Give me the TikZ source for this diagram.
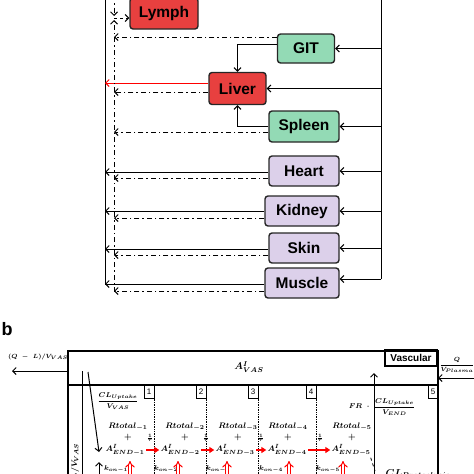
\documentclass[tikz,border=0pt]{standalone}
\usepackage{fontspec}
\setsansfont{Liberation Sans}
\usetikzlibrary{arrows.meta}
\definecolor{organred}{HTML}{E8403F}
\definecolor{organgreen}{HTML}{93DAB5}
\definecolor{organlilac}{HTML}{DCD0EA}

\begin{document}
\begin{tikzpicture}[x=1pt,y=-1pt,
	organ/.style={draw=black!85,line width=1.4pt,rounded corners=3pt,inner sep=0pt,
		font=\sffamily\bfseries\fontsize{15.5}{16}\selectfont},
	redorgan/.style={organ,fill=organred},
	greenorgan/.style={organ,fill=organgreen},
	lilacorgan/.style={organ,fill=organlilac},
	flow/.style={line width=1pt,-{Straight Barb[length=3.5pt,width=7pt]}},
	ret/.style={flow,dash pattern=on 5pt off 3pt on 1.5pt off 3pt},
	mtxt/.style={inner sep=0pt,font=\fontsize{8.5}{9}\selectfont\boldmath},
	ftxt/.style={inner sep=0pt,font=\fontsize{7.5}{8}\selectfont\boldmath},
	numbox/.style={draw,line width=1pt,inner sep=0pt,minimum width=10pt,minimum height=13pt,
		font=\sffamily\fontsize{8}{9}\selectfont},
	redflow/.style={red,line width=1.3pt,-{Triangle[length=5pt,width=6pt]}},
	dblred/.style={red,double,double distance=2.2pt,line width=1pt,-{Implies}}]
	\useasboundingbox (0,0) rectangle (474,474);
	\clip (0,0) rectangle (474,474);

	% panel a : organs
	\node[redorgan,minimum width=68pt,minimum height=31pt] (lymph) at (164,13.5) {Lymph};
	\node[greenorgan,minimum width=57pt,minimum height=29pt] (git) at (306,48.5) {GIT};
	\node[redorgan,minimum width=57pt,minimum height=32pt] (liver) at (237.5,88.5) {Liver};
	\node[greenorgan,minimum width=70pt,minimum height=31pt] (spleen) at (304,126.5) {Spleen};
	\node[lilacorgan,minimum width=70pt,minimum height=30pt] (heart) at (304,171) {Heart};
	\node[lilacorgan,minimum width=74pt,minimum height=30pt] (kidney) at (302,211) {Kidney};
	\node[lilacorgan,minimum width=70pt,minimum height=30pt] (skin) at (304,248) {Skin};
	\node[lilacorgan,minimum width=74pt,minimum height=30pt] (muscle) at (302,283) {Muscle};

	\coordinate (art) at (381,-5);
	\coordinate (ven) at (105,-5);
	\coordinate (lym) at (114,-5);
	\coordinate (artend) at (381,279);
	\coordinate (venend) at (105,285);
	\coordinate (lymend) at (114,292);

	% arterial side
	\draw[line width=1pt] (art) -- (artend);
	\foreach \o in {git,liver,spleen,heart,kidney,skin}
		\draw[flow] (\o -| art) -- (\o);
	\draw[flow] (artend) -- (artend -| muscle.east);

	% venous side
	\draw[line width=1pt] (ven) -- (venend);
	\draw[flow] ([yshift=4.5pt]git.west) -| (liver.north);
	\draw[flow] (spleen.west) -| (liver.south);
	\draw[flow,red] ([yshift=5.5pt]liver.west) -- ([yshift=5.5pt]liver.west -| ven);
	\foreach \o in {heart,skin,muscle}
		\draw[flow] ([yshift=-1pt]\o.west) -- ([yshift=-1pt]\o.west -| ven);
	\draw[flow] (kidney.west) -- (kidney.west -| ven);

	% lymph side
	\draw[ret] (lymend) -- (114,20);
	\draw[ret] (lym) -- (114,16);
	\draw[flow,dashed] (114,18) -- (lymph.west |- 114,18);
	\draw[ret] ([yshift=11.5pt]git.west) -- ([yshift=11.5pt]git.west -| lym);
	\draw[ret] ([yshift=-3.5pt]liver.west) -- ([yshift=-3.5pt]liver.west -| lym);
	\draw[ret] ([yshift=-5.5pt]spleen.west) -- ([yshift=-5.5pt]spleen.west -| lym);
	\foreach \o in {heart,kidney,skin}
		\draw[ret] ([yshift=-7pt]\o.west) -- ([yshift=-7pt]\o.west -| lym);
	\draw[ret] ([yshift=-8pt]muscle.west) -- ([yshift=-8pt]muscle.west -| lym);

	% panel b
	\node[font=\sffamily\bfseries\fontsize{18}{18}\selectfont,inner sep=0pt] (lbl) at (7,329) {b};
	\draw[line width=1.1pt] (68,490) -- (68,351) -- (438,351) -- (438,490);
	\draw[line width=1.1pt] (68,385) -- (438,385);
	\node[draw,line width=1.3pt,inner sep=0pt,minimum width=52pt,minimum height=16pt,
		font=\sffamily\bfseries\fontsize{10}{12}\selectfont] (vasc) at (411,358) {Vascular};
	\node[font=\fontsize{10}{10}\selectfont\boldmath,inner sep=0pt] (avas) at (249,367) {$A^{I}_{VAS}$};

	\node[ftxt,font=\fontsize{6.5}{8}\selectfont\boldmath] (qout) at (38,357) {$(Q\;-\;L)/V_{VAS}$};
	\coordinate (vasl) at (68,371);
	\coordinate (qleft) at (12,371);
	\draw[flow] (vasl) -- (qleft);
	\node[ftxt,font=\fontsize{6.5}{8}\selectfont\boldmath] (qin) at (457,365) {$\displaystyle\frac{Q}{V_{Plasma}}$};
	\coordinate (qright) at (480,378);
	\coordinate (vasr) at (438,378);
	\draw[flow] (qright) -- (vasr);

	\coordinate (endo) at (82,371);
	\coordinate (endob) at (82,490);
	\draw[line width=1pt] (endo) -- (endob);
	\node[mtxt,rotate=90,anchor=east] (lvas) at (75,443) {$(1-\sigma)\cdot L/V_{VAS}$};
	\coordinate (upt) at (88,372);
	\coordinate (uptend) at (99,452);
	\draw[flow] (upt) -- (uptend);
	\node[ftxt] (cluv) at (118,401) {$\displaystyle\frac{CL_{Uptake}}{V_{VAS}}$};

	\coordinate (bot) at (0,490);
	\foreach \i/\x in {1/149,2/201,3/253,4/311,5/433}
		\node[numbox] (c\i) at (\x,391.5) {\i};
	\foreach \i in {1,...,4}
		\draw[densely dotted,line width=0.7pt] (c\i.south east) -- (c\i.south east |- bot);

	\foreach \i/\x/\a in {1/128/125,2/185/180,3/238/235,4/288/287,5/352/351} {
		\node[mtxt] (rt\i) at (\x,427) {$Rtotal_{-\i}$};
		\node[mtxt] (pl\i) at (\x,437) {$+$};
		\node[mtxt] (ae\i) at (\a,450) {$A^{I}_{END-\i}$};
	}
	\foreach \i/\j in {1/2,2/3,3/4,4/5}
		\draw[redflow] ([xshift=1.5pt]ae\i.east) -- ([xshift=-1pt]ae\j.west);
	\foreach \i/\x in {1/150,2/206,3/261,4/320}
		\node[inner sep=0pt,font=\fontsize{5.5}{5.5}\selectfont\boldmath] (tau\i) at (\x,438) {$\frac{1}{\tau}$};

	\foreach \i/\x/\r in {1/116/130,2/166/178,3/218/227,4/271/289,5/328/343} {
		\node[ftxt] (kon\i) at (\x,469) {$k_{on-\i}$};
		\coordinate (bind\i) at (\r,480);
		\draw[dblred] (bind\i) -- ++(0,-19);
	}
	\coordinate (kin) at (99,480);
	\draw[flow] (kin) -- ++(0,-18);

	% recycling to vascular space
	\coordinate (frb) at (374,490);
	\draw[flow] (frb) -- (374,373);
	\node[ftxt] (fr) at (382,407) {$FR\;\cdot\;\displaystyle\frac{CL_{Uptake}}{V_{END}}$};
	\node[inner sep=0pt,font=\fontsize{10}{10}\selectfont\boldmath] (clp) at (418,474) {$CL_{Proteolysis}$};
	\coordinate (deg) at (375,471);
	\draw[dashed,line width=0.8pt] ([yshift=-2pt]ae5.south east) -- (deg);
\end{tikzpicture}
\end{document}
